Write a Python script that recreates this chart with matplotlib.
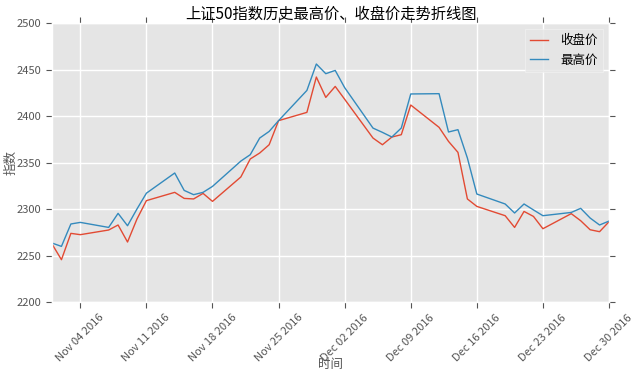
import matplotlib
matplotlib.use("Agg")
import matplotlib.pyplot as plt
import matplotlib.dates as mdates
import pandas as pd

plt.style.use("ggplot")
plt.rcParams['font.family'] = ['Noto Sans CJK SC', 'DejaVu Sans']
plt.rcParams['axes.unicode_minus'] = False

dates = ["2016-11-01", "2016-11-02", "2016-11-03", "2016-11-04", "2016-11-07", "2016-11-08",
         "2016-11-09", "2016-11-10", "2016-11-11", "2016-11-14", "2016-11-15", "2016-11-16",
         "2016-11-17", "2016-11-18", "2016-11-21", "2016-11-22", "2016-11-23", "2016-11-24",
         "2016-11-25", "2016-11-28", "2016-11-29", "2016-11-30", "2016-12-01", "2016-12-02",
         "2016-12-05", "2016-12-06", "2016-12-07", "2016-12-08", "2016-12-09", "2016-12-12",
         "2016-12-13", "2016-12-14", "2016-12-15", "2016-12-16", "2016-12-19", "2016-12-20",
         "2016-12-21", "2016-12-22", "2016-12-23", "2016-12-26", "2016-12-27", "2016-12-28",
         "2016-12-29", "2016-12-30"]

close = [2262.4, 2245.5, 2273.8, 2272.4, 2277.4, 2282.8, 2264.5, 2289.2, 2309.0, 2317.9,
         2311.4, 2310.8, 2316.8, 2308.2, 2334.4, 2353.8, 2360.2, 2369.1, 2395.0, 2403.9,
         2441.9, 2420.0, 2431.8, 2418.0, 2376.3, 2369.1, 2377.4, 2379.9, 2411.8, 2387.8,
         2372.7, 2360.9, 2310.8, 2302.8, 2292.8, 2280.2, 2297.4, 2292.0, 2278.8, 2295.0,
         2287.4, 2277.7, 2275.6, 2286.3]

high = [2263.4, 2259.8, 2283.9, 2285.6, 2280.2, 2295.3, 2282.0, 2300.0, 2317.0, 2338.7,
        2320.0, 2315.4, 2317.9, 2324.3, 2351.5, 2358.4, 2376.3, 2383.4, 2395.0, 2427.5,
        2455.9, 2445.5, 2449.0, 2430.5, 2387.0, 2382.4, 2377.4, 2387.1, 2423.7, 2424.0,
        2382.8, 2385.3, 2354.8, 2316.1, 2305.4, 2295.7, 2305.4, 2299.0, 2292.8, 2296.3,
        2300.7, 2290.3, 2282.8, 2287.0]

yticks = [2200, 2250, 2300, 2350, 2400, 2450, 2500]

x = pd.to_datetime(dates)

fig = plt.figure(figsize=(6.38, 3.78), dpi=100)
ax = fig.add_axes([52/638, 1 - 302/378, (609 - 52)/638, (302 - 23)/378])

ax.plot(x, close, color='#E24A33', linewidth=1.0, label='收盘价')
ax.plot(x, high, color='#348ABD', linewidth=1.0, label='最高价')

ax.set_xlim(x[0], x[-1])
ax.set_ylim(2200, 2500)
ax.set_yticks(yticks)
ax.xaxis.set_major_locator(mdates.WeekdayLocator(byweekday=mdates.FR))
ax.xaxis.set_major_formatter(mdates.DateFormatter('%b %d %Y'))
ax.tick_params(axis='both', which='major', labelsize=8, colors='#555555',
               direction='out', top=True, right=True, length=4)
for lab in ax.get_xticklabels():
    lab.set_rotation(45)
    lab.set_color('#555555')
ax.grid(True, color='white', linewidth=1)

ax.set_title('上证50指数历史最高价、收盘价走势折线图', fontsize=11, color='black', pad=3)
ax.set_xlabel('时间', fontsize=9, color='#555555')
ax.set_ylabel('指数', fontsize=9, color='#555555')
ax.yaxis.set_label_coords(-0.061, 0.5)
ax.xaxis.set_label_coords(0.5, -0.2)

leg = ax.legend(loc='upper right', fontsize=9, frameon=True, fancybox=False,
                handlelength=1.45, handletextpad=1.0)
leg.get_frame().set_facecolor('#E5E5E5')
leg.get_frame().set_edgecolor('#f4f4f4')

fig.savefig('out.png', dpi=100)
